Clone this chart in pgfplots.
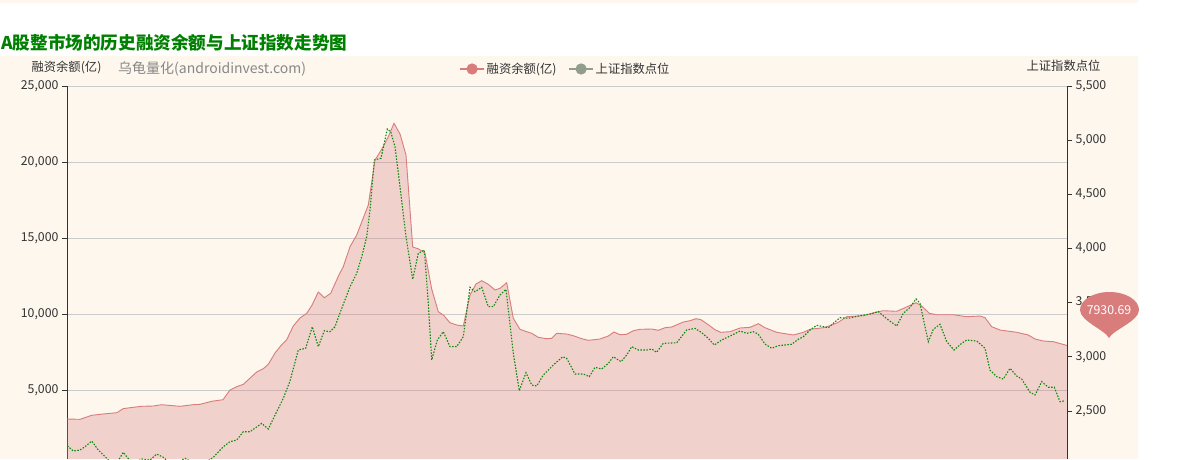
\documentclass[border=0pt]{standalone}
\usepackage{pgfplots}
\pgfplotsset{compat=1.18}
\usepackage{pgfplotstable}
\usepackage{fontspec}
\setmainfont{Noto Sans CJK SC}
\definecolor{cream}{HTML}{FDF7EE}
\definecolor{titlegreen}{HTML}{008000}
\definecolor{legred}{HTML}{D87C7C}
\definecolor{leggray}{HTML}{919E8B}
\definecolor{idxgreen}{HTML}{0A8A0A}
\definecolor{labelgray}{HTML}{333333}
\definecolor{gridgray}{HTML}{CCCCCC}
\definecolor{wmgray}{HTML}{888888}

\pgfplotstableread{
x y
67 3092
80 3072
91.7 3336
103 3421
117 3507
123 3770
130 3836
141.7 3928
153 3947
161.7 4033
180 3928
193 4033
200 4059
211.7 4257
223 4362
230 5000
236.7 5217
243.3 5375
256.7 6184
263.3 6401
268.3 6691
275 7434
281.7 7980
286.7 8309
293.3 9211
300 9737
306.7 10046
311.7 10546
318.3 11447
324.3 11072
330.7 11362
339 12580
343.3 13112
350 14428
356.7 15197
368.3 17171
375 20132
381.7 20836
388.3 21664
394 22546
400 21842
406 20461
412.7 14408
418.3 14289
425 14013
431.7 11645
438.3 10151
443.3 9934
450 9428
456.7 9276
463.3 9211
470 11250
476 11974
481.7 12191
488.3 11954
495 11579
500 11691
506.7 12059
513.3 9717
520 8993
526.7 8836
531.7 8730
538.3 8467
546.7 8375
551.7 8401
556.7 8730
566.7 8684
573.3 8572
581.7 8375
588.3 8270
600 8355
608.3 8553
614 8816
620 8638
626.7 8665
633.3 8901
640 8993
651.7 9013
658.3 8928
665 9099
671.7 9145
683.3 9474
690 9559
696 9691
701 9625
708.3 9296
715 8967
720.7 8796
730 8836
740 9079
750 9125
758.3 9362
765 9099
776.7 8796
793.3 8618
803.3 8796
810 8993
823.3 9099
830 9230
838.3 9454
846.7 9822
863.3 9888
876.7 10132
883.3 10217
896.7 10178
905 10415
916 10743
921.7 10526
929.3 10046
936.7 9954
953.3 9954
966.7 9822
980 9868
985 9757
991.7 9164
1000 8947
1016.7 8796
1028.3 8618
1035 8355
1043.3 8224
1053.3 8178
1067 7930.69
}\margin

\pgfplotstableread{
x y
67.3 2180
73.3 2131
80 2140
85 2170
91.7 2223
98.3 2140
106.7 2063
115 1992
123.3 2119
126.7 2078
133 2011
141.7 2057
150 2048
156.7 2103
163.3 2073
172 2002
185 2063
200 1992
213.3 2073
223.3 2170
230 2217
236.7 2232
243.3 2309
250 2309
261.7 2386
268.3 2334
276.7 2494
283.3 2617
290 2777
298.3 3063
305.7 3079
312.3 3278
318.3 3094
324.3 3241
330 3232
335 3278
340 3405
350 3647
356.7 3771
361.7 3924
366.7 4109
370 4355
374.3 4817
381 4833
387.3 5103
390.7 5078
395 4940
400 4570
406 4109
412.7 3716
418.3 3956
424.3 3986
428.3 3494
431.7 2971
437.3 3155
443.3 3232
450 3094
456.7 3094
463.3 3186
470 3642
475 3601
481.7 3642
488.3 3463
493.3 3463
500 3571
506 3623
513.3 3033
519.3 2687
526 2854
531.7 2740
536.7 2731
543.3 2832
553.3 2925
562.7 3001
566.7 2986
575 2842
583.3 2842
589.3 2817
595 2903
601.7 2888
608.3 2940
613.3 3001
621 2955
626.7 3017
631.7 3094
638.3 3063
646.7 3063
651.7 3072
656.7 3042
663.3 3125
676.7 3130
686.7 3248
695 3263
701.7 3223
708.3 3171
714.3 3109
721.7 3155
730 3192
740 3238
746.7 3217
753.3 3232
758.3 3208
765 3118
771.7 3079
778.3 3103
791.7 3116
798.3 3162
803.3 3186
810 3248
816.7 3291
828.3 3269
833.3 3310
840 3361
848.3 3356
860 3380
870 3395
878.3 3417
888.3 3340
896.7 3285
903.3 3402
910 3457
916 3534
920 3494
925 3278
928.3 3140
933.3 3254
940 3300
946.7 3140
954 3063
961.7 3125
966.7 3155
976.7 3146
985 3079
990 2878
996.7 2817
1003.3 2795
1010 2894
1016.7 2823
1021.7 2795
1030 2673
1035 2648
1041.7 2771
1048.3 2719
1054.3 2719
1060 2586
1065 2595
}\index

\begin{document}
\begin{tikzpicture}[x=1pt,y=1pt]
\useasboundingbox (0,0) rectangle (1190,459);
\fill[white] (0,0) rectangle (1190,459);
\fill[cream] (0,0) rectangle (1138,403);
\fill[cream] (0,456) rectangle (1138,459);
\node[anchor=west, text=titlegreen, font=\fontsize{17.6}{20}\selectfont\bfseries, inner sep=0pt] at (1,416) {A股整市场的历史融资余额与上证指数走势图};

\begin{axis}[
  at={(67pt,0pt)}, anchor=south west, scale only axis,
  width=1000pt, height=373pt,
  xmin=67, xmax=1067, ymin=461, ymax=25000,
  axis x line=none, axis y line*=left,
  axis line style={color=labelgray, line width=0.8pt},
  ytick={5000,10000,15000,20000,25000},
  tick align=outside, major tick length=5pt,
  tick style={color=labelgray, line width=0.8pt},
  ymajorgrids, major grid style={color=gridgray, line width=0.8pt},
  yticklabel style={font=\fontsize{12.3}{14}\selectfont, text=labelgray},
  /pgf/number format/.cd, 1000 sep={,}, assume math mode=true, /pgfplots/.cd,
  scaled y ticks=false,
  legend style={at={(0.4985,1.0456)}, anchor=center, draw=none, fill=none,
    font=\fontsize{12.3}{14}\selectfont, text=labelgray, inner sep=0pt,
    /tikz/every even column/.append style={column sep=10pt}},
  legend columns=2,
  legend cell align=left,
  legend image code/.code={\draw[#1] (0pt,0pt) -- (24pt,0pt); \fill[#1] (12pt,0pt) circle (5pt);},
]
\addplot[forget plot, draw=none, fill=legred, fill opacity=0.3] table[x=x,y=y] {\margin} \closedcycle;
\addplot[forget plot, color=legred, line width=0.9pt] table[x=x,y=y] {\margin};
\addlegendimage{color=legred, line width=1.2pt}
\addlegendentry{融资余额(亿)}
\addlegendimage{color=leggray, line width=1.2pt}
\addlegendentry{上证指数点位}
\end{axis}

\begin{axis}[
  at={(67pt,0pt)}, anchor=south west, scale only axis,
  width=1000pt, height=373pt,
  xmin=67, xmax=1067, ymin=2057, ymax=5500,
  axis x line=none, axis y line*=right,
  axis line style={color=labelgray, line width=0.8pt},
  ytick={2500,3000,3500,4000,4500,5000,5500},
  tick align=outside, major tick length=5pt,
  tick style={color=labelgray, line width=0.8pt},
  yticklabel style={font=\fontsize{12.3}{14}\selectfont, text=labelgray},
  /pgf/number format/.cd, 1000 sep={,}, assume math mode=true, /pgfplots/.cd,
  scaled y ticks=false,
]
\addplot[color=idxgreen, line width=1.1pt, dash pattern=on 1.5pt off 1.5pt] table[x=x,y=y] {\index};
\end{axis}

\node[text=labelgray, font=\fontsize{12.3}{14}\selectfont, inner sep=0pt] at (66.5,392) {融资余额(亿)};
\node[text=labelgray, font=\fontsize{12.3}{14}\selectfont, inner sep=0pt] at (1063.5,393) {上证指数点位};
\node[anchor=west, text=wmgray, font=\fontsize{14}{16}\selectfont, inner sep=0pt] at (118,390) {乌龟量化(androidinvest.com)};

\fill[legred] (1109,121) .. controls (1105,129) and (1080,138) .. (1080,149)
  arc[start angle=180, end angle=0, x radius=29.5, y radius=18]
  .. controls (1139,138) and (1113,129) .. (1109,121) -- cycle;
\node[text=white, font=\fontsize{12.3}{14}\selectfont, inner sep=0pt] at (1109,149) {7930.69};
\end{tikzpicture}
\end{document}
